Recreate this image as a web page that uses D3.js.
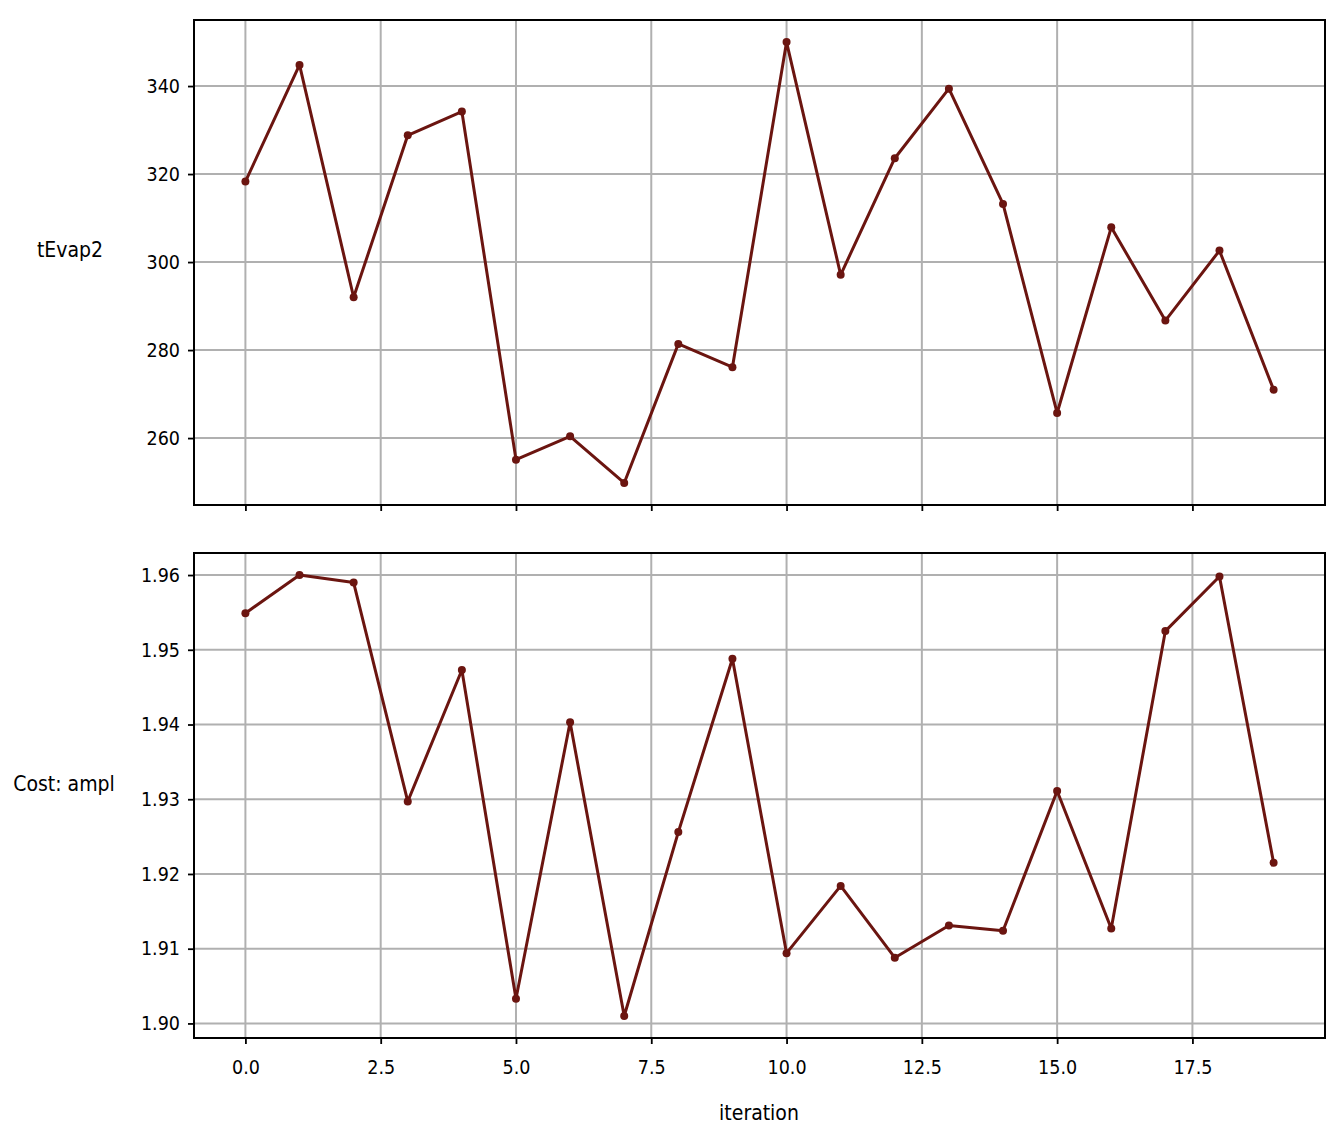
<!DOCTYPE html>
<html>
<head>
<meta charset="utf-8">
<script src="https://cdn.jsdelivr.net/npm/d3@7"></script>
<style>
    body { margin: 0; background: #fff; }
    svg text { font-family: "DejaVu Sans Condensed", "DejaVu Sans", sans-serif; fill: #000; }
</style>
</head>
<body>
<svg id="chart" width="1338" height="1138"></svg>
<script>
let iterations = d3.range(0, 20)
let tEvap2 = [318.3, 344.8, 292.0, 328.8, 334.2, 255.1, 260.4, 249.8, 281.4, 276.1,
    350.0, 297.1, 323.6, 339.4, 313.2, 265.7, 307.9, 286.7, 302.6, 271.0]
let costAmpl = [1.9549, 1.9600, 1.9590, 1.9297, 1.9473, 1.9033, 1.9403, 1.9010, 1.9256, 1.9488,
    1.9094, 1.9184, 1.9088, 1.9131, 1.9124, 1.9311, 1.9127, 1.9525, 1.9598, 1.9215]
let xTicks = [0, 2.5, 5, 7.5, 10, 12.5, 15, 17.5]
let topTicks = [260, 280, 300, 320, 340]
let bottomTicks = [1.90, 1.91, 1.92, 1.93, 1.94, 1.95, 1.96]

let lineColor = "#6b1510"
let fontFam = "DejaVu Sans Condensed, DejaVu Sans, sans-serif"
let svg = d3.select("#chart")
let left = 194, right = 1325

// matplotlib style 5% margins
let pad = (arr) => {
    let [lo, hi] = d3.extent(arr)
    let m = (hi - lo) * 0.05
    return [lo - m, hi + m]
}

let x = d3.scaleLinear().domain(pad(iterations)).range([left, right])

let drawPanel = (values, ticks, fmt, top, bottom, label, labelX, labelY, showXLabels) => {
    let y = d3.scaleLinear().domain(pad(values)).range([bottom, top])
    let g = svg.append("g")

    // grid
    g.selectAll(".vgrid").data(xTicks).enter().append("line")
        .attr("x1", d => x(d)).attr("x2", d => x(d))
        .attr("y1", top).attr("y2", bottom)
        .attr("stroke", "#b0b0b0").attr("stroke-width", 2)
    g.selectAll(".hgrid").data(ticks).enter().append("line")
        .attr("x1", left).attr("x2", right)
        .attr("y1", d => y(d)).attr("y2", d => y(d))
        .attr("stroke", "#b0b0b0").attr("stroke-width", 2)

    // axes
    let yAxis = g.append("g").attr("transform", `translate(${left},0)`)
        .call(d3.axisLeft(y).tickValues(ticks).tickFormat(fmt).tickSize(6).tickPadding(8))
    let xAxis = g.append("g").attr("transform", `translate(0,${bottom})`)
        .call(d3.axisBottom(x).tickValues(xTicks).tickFormat(showXLabels ? d3.format(".1f") : "").tickSize(6).tickPadding(16))
    for (let ax of [yAxis, xAxis]) {
        ax.select(".domain").remove()
        ax.selectAll(".tick line").attr("stroke", "#000").attr("stroke-width", 1.8)
        ax.selectAll("text").attr("font-size", 19.5).attr("font-family", fontFam)
    }

    // series
    let line = d3.line().x((d, i) => x(iterations[i])).y(d => y(d))
    g.append("path").datum(values)
        .attr("d", line)
        .attr("fill", "none")
        .attr("stroke", lineColor)
        .attr("stroke-width", 3)
        .attr("stroke-linejoin", "round")
    g.selectAll(".pt").data(values).enter().append("circle")
        .attr("cx", (d, i) => x(iterations[i]))
        .attr("cy", d => y(d))
        .attr("r", 4)
        .attr("fill", lineColor)

    // frame
    g.append("rect")
        .attr("x", left).attr("y", top)
        .attr("width", right - left).attr("height", bottom - top)
        .attr("fill", "none").attr("stroke", "#000").attr("stroke-width", 2)

    g.append("text")
        .attr("x", labelX).attr("y", labelY)
        .attr("text-anchor", "middle")
        .attr("font-size", 21)
        .text(label)
}

drawPanel(tEvap2, topTicks, d3.format("d"), 20, 505, "tEvap2", 70, 257, false)
drawPanel(costAmpl, bottomTicks, d3.format(".2f"), 553, 1038, "Cost: ampl", 64, 791, true)

svg.append("text")
    .attr("x", 759).attr("y", 1120)
    .attr("text-anchor", "middle")
    .attr("font-size", 21)
    .text("iteration")
</script>
</body>
</html>
